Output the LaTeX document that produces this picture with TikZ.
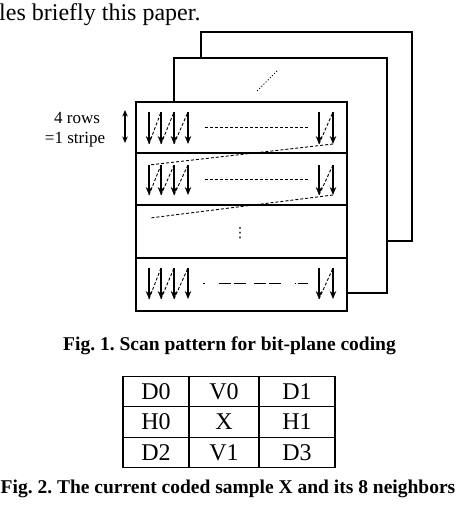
\documentclass[tikz,border=0pt]{standalone}
\usepackage{fontspec}
\setmainfont{Liberation Serif}
\newfontfamily\symfont{DejaVu Sans}
\usetikzlibrary{arrows.meta,positioning}
\frenchspacing
\begin{document}
\begin{tikzpicture}[x=1pt,y=-1pt,>={Stealth[length=8pt,width=6.5pt]}]

    \tikzstyle{plane}=[line width=1.4pt, line join=miter]
    \tikzstyle{stripe}=[draw, line width=1.4pt, minimum width=211pt, inner sep=0pt]
    \tikzstyle{scan}=[->, line width=1.7pt]
    \tikzstyle{jump}=[dash pattern=on 3pt off 2pt, line width=0.9pt]
    \tikzstyle{cell}=[draw, line width=1.4pt, minimum height=30.5pt, inner sep=0pt, font=\fontsize{24}{24}\selectfont]
    \tikzstyle{caption}=[inner sep=0pt, anchor=base, font=\bfseries\fontsize{19.5}{20}\selectfont]
    \tikzstyle{side}=[inner sep=0pt, font=\fontsize{17}{17}\selectfont]

    \useasboundingbox (0,0) rectangle (474,508);

    % Text above the figure
    \node at (-1,21) [anchor=base west, inner sep=0pt, font=\fontsize{24}{24}\selectfont] (body) {les briefly this paper.};

    % Back planes
    \draw[plane] (201,58) -- (201,32) -- (412,32) -- (412,241) -- (387,241);
    \draw[plane] (174,102) -- (174,58) -- (387,58) -- (387,293) -- (347,293);
    \draw[dotted, line width=1pt] (277,71) -- (257,91);

    % Front plane, four stripes
    \foreach \s/\top/\bot in {1/102/153, 2/153/205, 3/205/258, 4/258/311}
        \node at (241.5,{(\top+\bot)/2}) [stripe, minimum height={\bot-\top}] (S\s) {};
    \node at (240,233) [inner sep=0pt, font=\symfont\fontsize{14}{14}\selectfont] (dots) {⋮};

    % Scan columns in each stripe
    \foreach \s/\top/\bot in {1/112/144, 2/165/195, 4/268/299} {
        \foreach \i/\x in {1/149, 2/161, 3/174, 4/188, 5/319, 6/333} {
            \coordinate (T\s\i) at (\x,\top);
            \coordinate (B\s\i) at (\x,\bot);
            \draw[scan] (T\s\i) -- (B\s\i);
        }
        \foreach \i/\j in {1/2, 2/3, 3/4, 5/6}
            \draw[jump] (B\s\i) -- (T\s\j);
    }
    \draw[jump] (205,127) -- (308,127);
    \draw[jump] (205,179) -- (308,179);
    \draw[line width=0.9pt, dash pattern=on 1.5pt off 14pt on 12pt off 3pt on 12pt off 8pt on 12pt off 3pt on 12pt off 14pt on 1.5pt] (203,283) -- (308,283);

    % Jumps to the next stripe
    \coordinate (R3) at (150,218);
    \draw[jump] (B16) -- (T21);
    \draw[jump] (B26) -- (R3);

    % Stripe height
    \coordinate (H1) at (125,110);
    \coordinate (H2) at (125,143);
    \draw[<->, line width=1.3pt, >={Stealth[length=6.5pt,width=5.5pt]}] (H1) -- (H2);
    \node at (77,118) [side] (rows) {4 rows};
    \node at (75,140) [side] (stripe) {=1 stripe};

    \node at (229.5,350) [caption] (fig1) {Fig. 1. Scan pattern for bit-plane coding};

    % Neighbourhood of X
    \foreach \n/\x/\w/\y in {D0/156/66/391.5, V0/224/70/391.5, D1/297/76/391.5,
                             H0/156/66/422, X/224/70/422, H1/297/76/422,
                             D2/156/66/452.5, V1/224/70/452.5, D3/297/76/452.5}
        \node at (\x,\y) [cell, minimum width=\w pt] (\n) {\n};

    \node at (228,493) [caption] (fig2) {Fig. 2. The current coded sample X and its 8 neighbors};

\end{tikzpicture}
\end{document}
